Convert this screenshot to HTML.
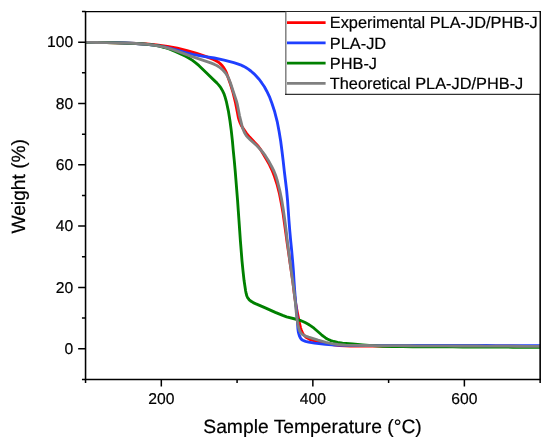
<!DOCTYPE html>
<html><head><meta charset="utf-8"><title>TGA</title>
<style>
html,body{margin:0;padding:0;background:#fff}
.t{font-family:"Liberation Sans",Arial,sans-serif;fill:#000;stroke:#000;stroke-width:0.2px;text-rendering:geometricPrecision}
</style></head><body>
<svg width="550" height="446" viewBox="0 0 550 446" style="display:block">
<rect width="550" height="446" fill="#fff"/>
<g fill="none" stroke-width="2.85" stroke-linejoin="round" stroke-linecap="butt">
<path d="M85.5,42.4L96.5,42.4L106.5,42.6L116.6,42.8L126.6,43.1L136.6,43.5L146.6,44.0L156.6,44.9L167.5,46.3L177.3,48.1L187.1,50.6L196.7,53.4L206.2,56.7L212.8,59.2L215.5,60.4L217.2,61.4L218.9,62.5L220.4,63.8L221.8,65.2L223.1,66.8L224.2,68.5L225.2,70.2L226.5,72.9L230.1,83.2L233.1,92.9L235.5,102.7L237.6,113.4L238.3,117.3L239.1,120.2L239.8,122.1L240.6,123.9L241.5,125.8L243.1,128.4L246.5,133.3L249.6,137.1L256.6,144.4L258.6,146.7L260.3,149.1L265.9,158.5L269.4,164.6L272.0,170.1L274.5,176.6L277.0,184.2L279.5,193.9L281.4,203.7L283.1,213.6L284.5,223.6L285.9,233.5L287.2,243.4L288.7,253.3L290.1,263.3L291.6,273.2L293.0,283.1L294.2,293.0L295.6,303.0L297.4,312.8L299.4,322.7L300.5,327.6L301.1,329.5L301.8,331.4L302.7,333.2L303.2,334.0L303.8,334.8L304.4,335.6L305.1,336.3L305.8,337.0L306.6,337.6L307.4,338.1L309.2,339.1L311.0,339.8L313.9,340.7L323.7,342.9L333.6,344.8L339.6,345.5L350.5,346.0L360.5,346.1L370.6,346.1L380.6,346.1L390.6,346.1L400.7,346.1L410.7,346.1L420.7,346.1L430.7,346.1L440.8,346.1L450.8,346.1L460.8,346.1L470.8,346.1L480.9,346.1L490.9,346.1L500.9,346.2L510.9,346.2L520.9,346.3L531.0,346.3L540.0,346.4" stroke="#ff0000"/>
<path d="M85.5,42.4L95.5,42.5L105.6,42.6L115.6,42.7L125.6,43.0L135.6,43.5L146.6,44.3L157.5,45.7L166.3,47.3L176.1,49.8L185.8,52.6L192.6,54.4L203.3,56.3L214.2,58.0L224.1,60.2L233.8,62.6L237.6,63.8L240.4,64.8L243.1,66.1L245.8,67.5L248.3,69.1L250.8,71.0L253.8,73.6L256.6,76.5L259.3,79.5L261.6,82.7L264.4,86.8L266.8,91.2L269.4,96.6L271.9,103.2L274.7,111.8L277.2,121.6L279.1,131.4L280.7,141.3L282.0,151.2L283.2,161.1L284.3,171.1L285.5,181.0L286.7,191.0L287.6,201.0L288.3,211.0L289.0,221.0L289.8,231.0L290.7,241.0L291.7,250.9L292.6,260.9L293.4,270.9L294.0,280.9L294.7,290.9L295.5,300.9L296.5,310.9L297.4,320.9L297.9,328.9L298.3,331.9L298.8,333.8L299.4,335.8L299.8,336.7L300.2,337.6L300.7,338.4L301.3,339.2L302.0,339.8L302.8,340.3L303.7,340.7L305.5,341.3L308.6,342.1L314.6,343.2L325.5,344.4L335.5,345.0L345.5,345.3L355.5,345.4L365.6,345.4L375.6,345.4L385.6,345.4L395.6,345.4L405.7,345.4L415.7,345.4L425.7,345.4L435.7,345.4L445.8,345.4L455.8,345.5L465.8,345.5L475.8,345.5L485.9,345.5L495.9,345.6L505.9,345.6L515.9,345.6L526.0,345.7L536.0,345.7L540.0,345.7" stroke="#1f3fff"/>
<path d="M85.5,42.4L95.5,42.4L105.6,42.6L115.6,42.8L125.6,43.1L135.6,43.5L145.6,44.2L153.6,45.1L159.5,46.2L164.3,47.5L169.1,49.0L175.7,51.6L185.6,56.3L189.1,58.2L192.5,60.4L195.7,62.8L198.8,65.4L206.6,73.1L213.9,80.1L216.8,82.9L218.8,85.1L220.0,86.6L221.1,88.3L222.6,90.9L223.9,93.6L224.9,96.4L226.3,101.3L228.4,111.1L230.0,121.0L231.3,130.9L232.4,140.9L233.3,150.8L234.3,160.8L235.2,170.8L236.0,180.8L236.8,190.8L237.6,200.8L238.3,210.8L239.0,220.8L239.7,230.8L240.4,240.8L241.2,250.8L242.0,260.8L243.0,270.8L244.1,280.8L245.6,290.7L246.2,293.7L246.7,295.6L247.1,296.5L247.5,297.4L248.0,298.2L248.6,299.0L249.2,299.7L249.9,300.4L250.7,301.0L251.5,301.6L253.2,302.6L256.0,303.9L265.3,307.9L275.3,312.4L282.7,315.4L286.6,316.8L297.2,319.5L300.1,320.4L302.9,321.5L305.6,322.8L308.3,324.3L310.8,325.9L314.0,328.2L321.5,334.8L323.9,336.7L325.6,337.9L327.3,338.9L329.1,339.8L330.9,340.6L333.8,341.5L337.6,342.4L342.6,343.1L352.6,344.0L362.6,344.9L372.6,345.7L382.6,346.3L392.6,346.6L402.6,346.7L412.7,346.7L422.7,346.7L432.7,346.8L442.7,346.8L452.8,346.9L462.8,347.0L472.8,347.0L482.9,347.1L492.9,347.1L502.9,347.2L512.9,347.2L523.0,347.3L533.0,347.3L540.0,347.4" stroke="#008000"/>
<path d="M85.5,42.4L96.5,42.5L106.5,42.6L116.5,42.8L126.6,43.1L136.6,43.5L147.6,44.4L156.5,45.6L164.3,47.2L171.0,49.0L180.6,52.3L190.1,55.8L200.4,59.4L210.7,62.9L214.5,64.4L216.3,65.3L218.0,66.3L219.7,67.4L221.3,68.6L222.8,70.0L224.2,71.5L225.5,73.0L226.6,74.7L227.6,76.4L228.9,79.0L230.4,82.7L233.5,92.3L236.4,100.9L237.4,104.7L239.5,115.5L241.9,125.3L242.7,128.2L243.8,131.0L244.6,132.8L245.6,134.5L246.7,136.1L248.0,137.6L250.2,139.8L256.9,145.8L259.7,148.7L262.3,151.7L265.3,155.7L268.5,160.8L271.9,167.0L274.1,171.5L275.6,175.2L277.1,179.9L279.8,190.6L281.8,200.4L283.4,210.3L284.8,220.2L286.1,230.2L287.2,240.1L288.6,251.0L290.0,261.9L291.4,271.9L292.8,281.8L294.1,291.8L295.3,301.7L296.3,312.7L297.1,319.6L297.9,324.5L298.6,327.5L299.2,329.4L299.5,330.4L299.9,331.3L300.4,332.1L300.9,332.9L301.5,333.7L302.3,334.3L303.1,334.9L303.9,335.4L305.7,336.2L308.6,337.2L318.1,340.2L325.9,342.4L331.8,343.6L337.7,344.5L345.7,345.1L356.7,345.4L366.7,345.5L376.7,345.6L386.7,345.6L396.8,345.7L406.8,345.7L416.8,345.8L426.8,345.8L436.8,345.9L446.9,345.9L456.9,346.0L466.9,346.0L476.9,346.0L486.9,346.1L496.9,346.1L506.9,346.2L517.0,346.2L527.0,346.3L537.0,346.4L540.0,346.4" stroke="#808080"/>
</g>
<g stroke="#000" fill="none">
<path d="M85.55,10.9V380.15M84.8,379.4H540.9499999999999" stroke-width="1.55"/>
<path d="M85.55,11.6H540.9499999999999" stroke-width="1.3"/>
<path d="M540.15,11.5V379.4" stroke-width="1.6"/>
<path d="M85.55,379.40h-3.6M85.55,348.74h-7.4M85.55,318.08h-3.6M85.55,287.42h-7.4M85.55,256.77h-3.6M85.55,226.11h-7.4M85.55,195.45h-3.6M85.55,164.79h-7.4M85.55,134.13h-3.6M85.55,103.47h-7.4M85.55,72.82h-3.6M85.55,42.16h-7.4M85.55,11.50h-3.6M85.55,379.4v3.5M161.32,379.4v7M237.08,379.4v3.5M312.85,379.4v7M388.62,379.4v3.5M464.38,379.4v7M540.15,379.4v3.5" stroke-width="1.5"/>
</g>
<rect x="285.8" y="11.85" width="253.55" height="82.45" fill="#fff"/>
<path d="M285.8,11.85V94.8" stroke="#808080" stroke-width="1.5" fill="none"/>
<path d="M285.1,94.3H540.15" stroke="#000" stroke-width="1" fill="none"/>
<path d="M287,22.6H325.6" stroke="#ff0000" stroke-width="2.75" fill="none"/>
<text x="329.8" y="28.4" font-size="16.35" class="t">Experimental PLA-JD/PHB-J</text>
<path d="M287,42.9H325.6" stroke="#1f3fff" stroke-width="2.75" fill="none"/>
<text x="329.8" y="48.7" font-size="16.35" class="t">PLA-JD</text>
<path d="M287,63.1H325.6" stroke="#008000" stroke-width="2.75" fill="none"/>
<text x="329.8" y="68.9" font-size="16.35" class="t">PHB-J</text>
<path d="M287,83.4H325.6" stroke="#808080" stroke-width="2.75" fill="none"/>
<text x="329.8" y="89.2" font-size="16.35" class="t">Theoretical PLA-JD/PHB-J</text>
<text x="73.2" y="353.9" font-size="15.7" text-anchor="end" class="t">0</text>
<text x="73.2" y="292.6" font-size="15.7" text-anchor="end" class="t">20</text>
<text x="73.2" y="231.3" font-size="15.7" text-anchor="end" class="t">40</text>
<text x="73.2" y="170.0" font-size="15.7" text-anchor="end" class="t">60</text>
<text x="73.2" y="108.7" font-size="15.7" text-anchor="end" class="t">80</text>
<text x="73.2" y="47.4" font-size="15.7" text-anchor="end" class="t">100</text>
<text x="161.3" y="403.5" font-size="15.7" text-anchor="middle" class="t">200</text>
<text x="312.9" y="403.5" font-size="15.7" text-anchor="middle" class="t">400</text>
<text x="464.4" y="403.5" font-size="15.7" text-anchor="middle" class="t">600</text>
<text x="312.5" y="433.3" font-size="19.3" text-anchor="middle" class="t">Sample Temperature (°C)</text>
<text transform="translate(25.2,186.3) rotate(-90)" font-size="19.2" text-anchor="middle" class="t">Weight (%)</text>
</svg>
</body></html>
